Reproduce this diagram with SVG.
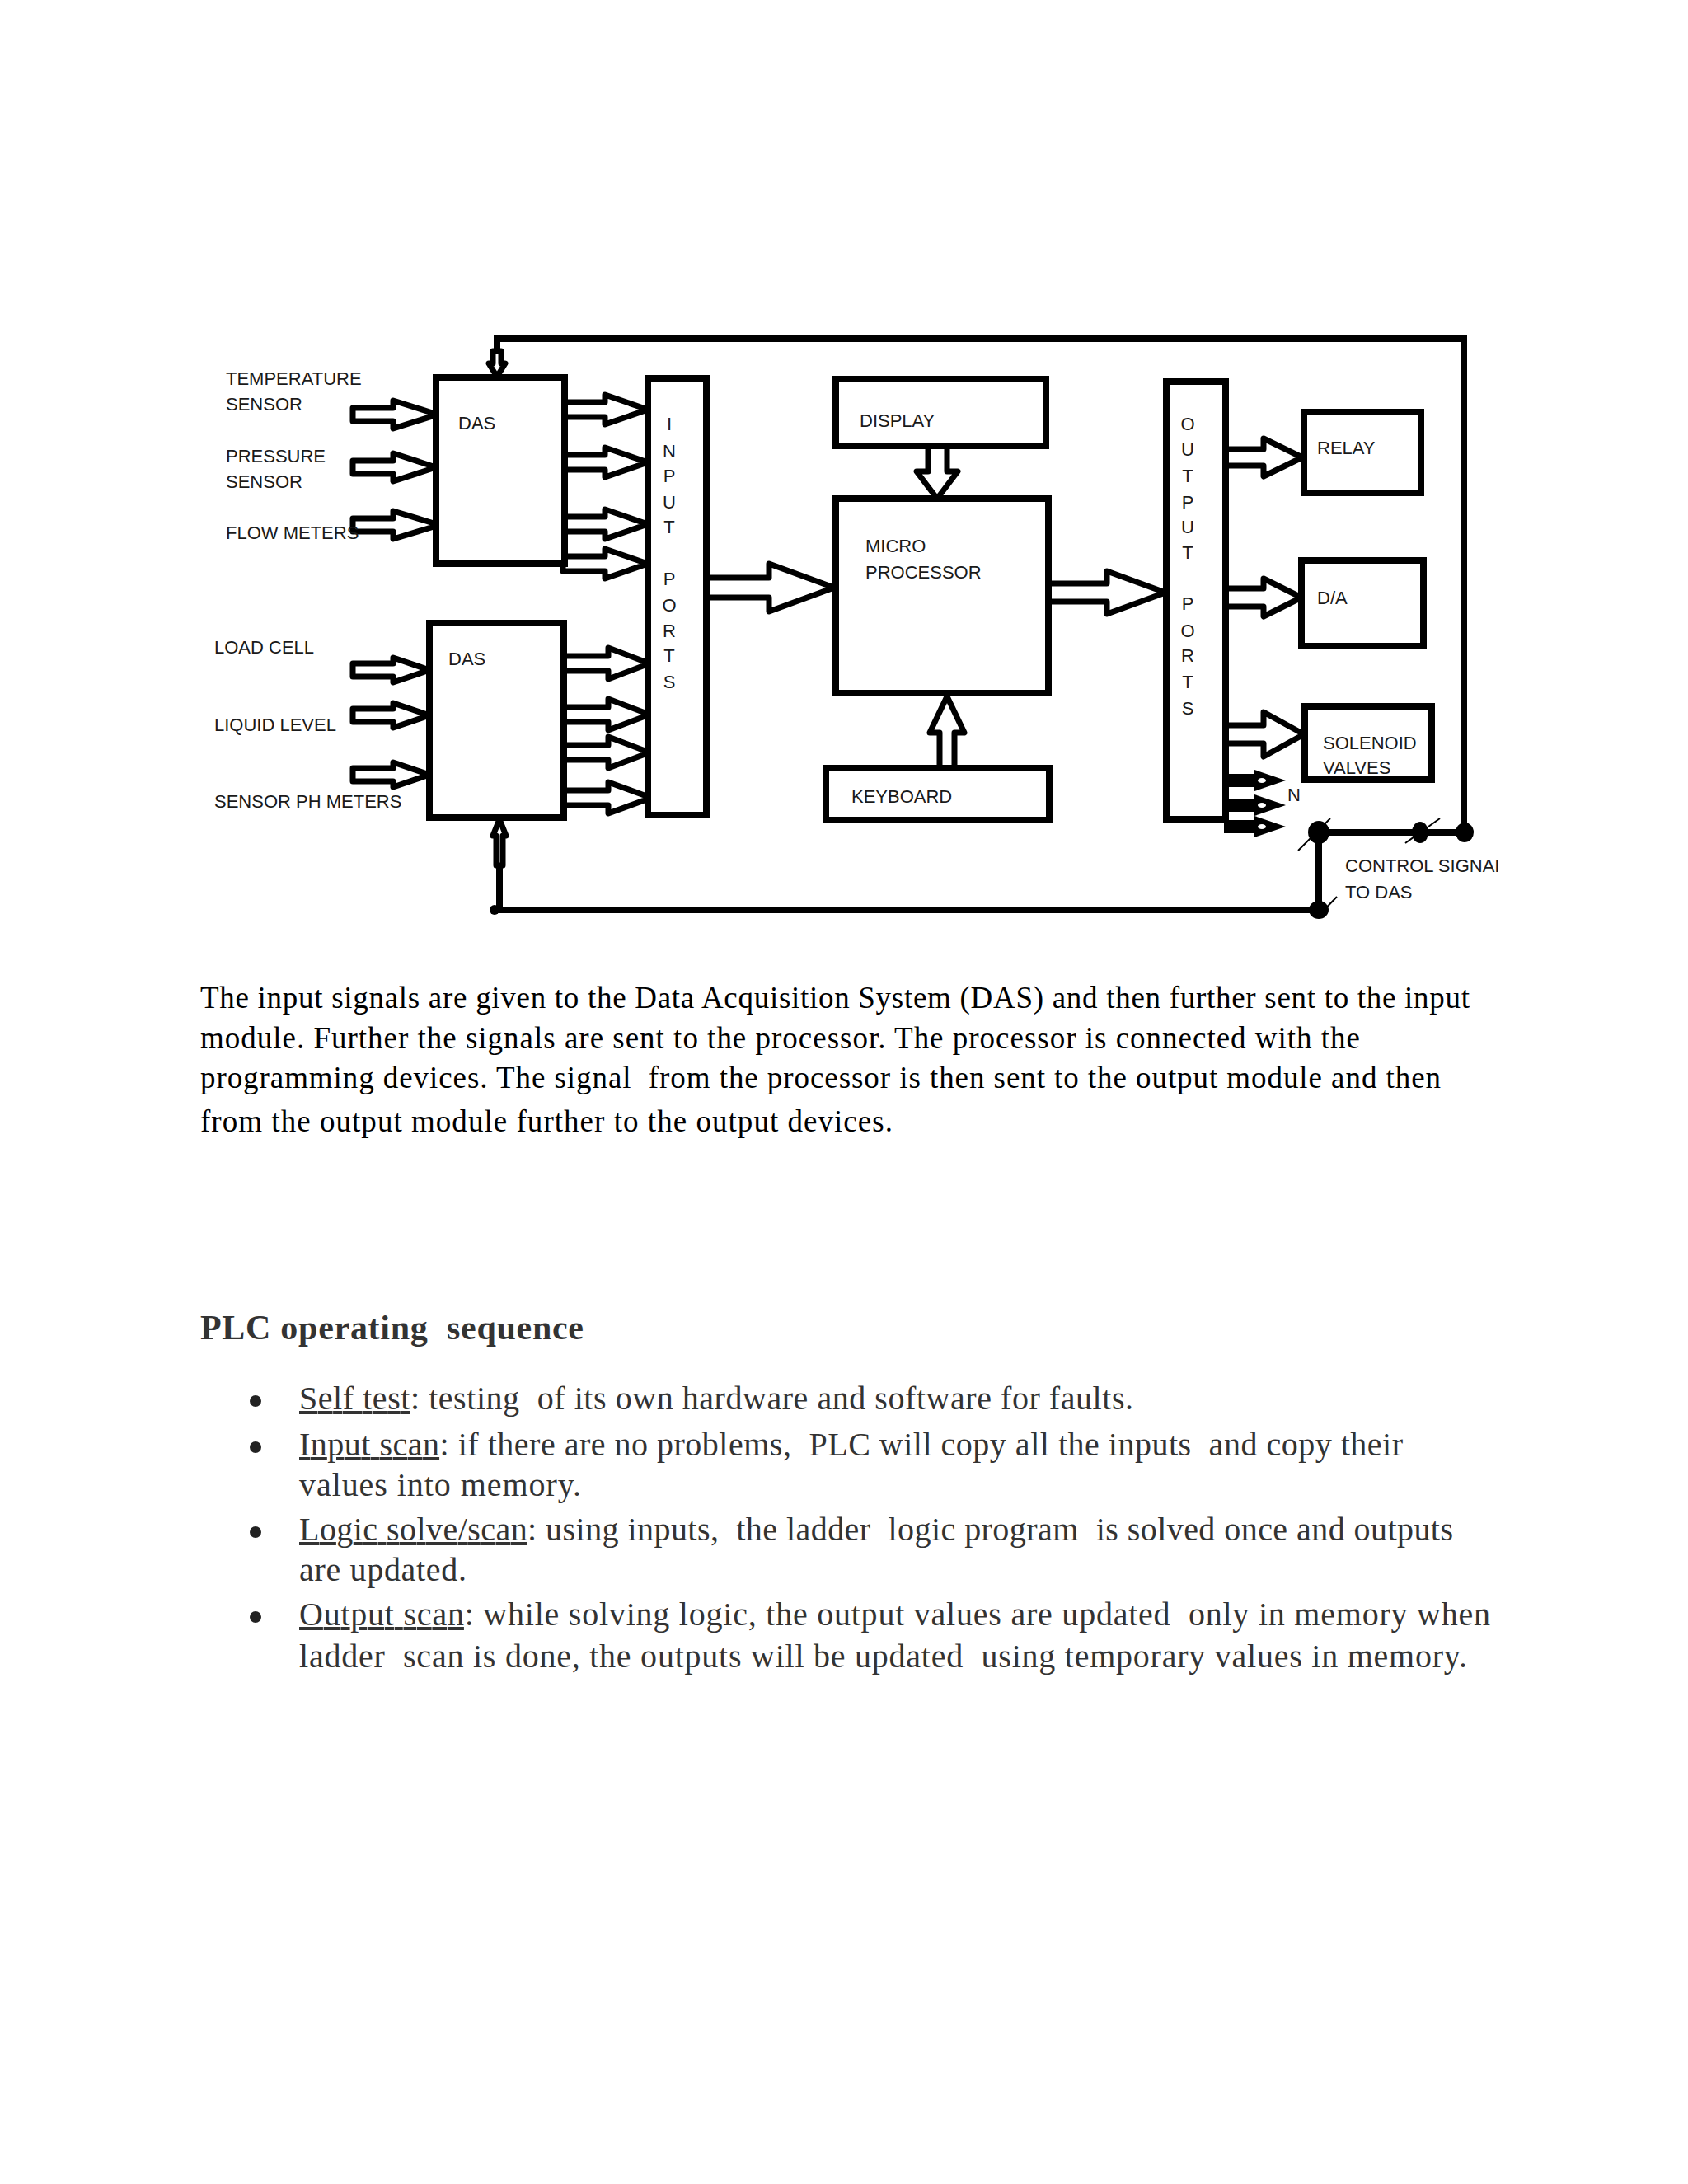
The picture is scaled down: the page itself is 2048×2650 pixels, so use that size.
<svg xmlns="http://www.w3.org/2000/svg" width="2048" height="2650" viewBox="0 0 2048 2650">
<style>
.box{fill:#fff;stroke:#000;stroke-width:8}
.arr{fill:#fff;stroke:#000;stroke-width:7;stroke-linejoin:round}
.wire{fill:none;stroke:#000;stroke-width:8;stroke-linecap:round;stroke-linejoin:miter}
.tick{stroke:#000;stroke-width:2}
.lbl{font-family:"Liberation Sans",Arial,sans-serif;font-size:22px;fill:#1a1a1a}
.vl{font-family:"Liberation Sans",Arial,sans-serif;font-size:22px;fill:#1a1a1a;text-anchor:middle}
.para{font-family:"Liberation Serif","Times New Roman",serif;font-size:37px;fill:#000;white-space:pre}
.bul{font-family:"Liberation Serif","Times New Roman",serif;font-size:40px;fill:#333;white-space:pre}
.head{font-family:"Liberation Serif","Times New Roman",serif;font-size:42px;font-weight:bold;fill:#333;white-space:pre}
.u{text-decoration:underline}
</style>
<rect width="2048" height="2650" fill="#fff"/>

<g id="connectors">
  <!-- feedback loop -->
  <path class="wire" d="M603,432 V411 H1776 V1010 H1600 V1104 H600"/>
  <path class="wire" d="M606,1104 V1048"/>
  <polygon class="arr" stroke-width="5" points="598,426 598,441 593,441 603,457 613,441 608,441 608,426"/>
  <polygon class="arr" stroke-width="5" points="606,994 614,1014 610,1014 610,1050 602,1050 602,1014 598,1014"/>
  <ellipse cx="1600" cy="1010" rx="13" ry="14"/>
  <ellipse cx="1723" cy="1010" rx="10" ry="13"/>
  <ellipse cx="1777" cy="1010" rx="11" ry="12"/>
  <ellipse cx="1600" cy="1104" rx="12" ry="11"/>
  <circle cx="600" cy="1104" r="6"/>
  <line class="tick" x1="1575" y1="1032" x2="1614" y2="993"/>
  <line class="tick" x1="1705" y1="1023" x2="1747" y2="993"/>
  <line class="tick" x1="1598" y1="1113" x2="1622" y2="1088"/>

  <!-- sensors to DAS1 -->
  <polygon class="arr" points="428,495 477,495 477,486 531,503 477,520 477,511 428,511"/>
  <polygon class="arr" points="428,559 477,559 477,550 529,567 477,584 477,575 428,575"/>
  <polygon class="arr" points="428,629 477,629 477,620 533,637 477,654 477,645 428,645"/>
  <!-- sensors to DAS2 -->
  <polygon class="arr" points="428,805 477,805 477,798 521,813 477,828 477,821 428,821"/>
  <polygon class="arr" points="428,860 477,860 477,853 521,868 477,883 477,876 428,876"/>
  <polygon class="arr" points="428,932 477,932 477,925 521,940 477,955 477,948 428,948"/>
  <!-- DAS1 to input ports -->
  <polygon class="arr" points="685,488 734,488 734,479 786,497 734,515 734,506 685,506"/>
  <polygon class="arr" points="685,552 734,552 734,543 786,561 734,579 734,570 685,570"/>
  <polygon class="arr" points="685,627 734,627 734,618 786,636 734,654 734,645 685,645"/>
  <polygon class="arr" points="683,675 734,675 734,666 786,684 734,702 734,693 683,693"/>
  <!-- DAS2 to input ports -->
  <polygon class="arr" points="684,796 738,796 738,786 788,805 738,824 738,814 684,814"/>
  <polygon class="arr" points="684,858 738,858 738,848 788,867 738,886 738,876 684,876"/>
  <polygon class="arr" points="684,904 738,904 738,894 788,913 738,932 738,922 684,922"/>
  <polygon class="arr" points="684,959 738,959 738,949 790,968 738,987 738,977 684,977"/>
  <!-- input ports to microprocessor -->
  <polygon class="arr" points="857,701 933,701 933,684 1012,713 933,742 933,725 857,725"/>
  <!-- display to microprocessor -->
  <polygon class="arr" points="1126,541 1126,572 1112,572 1137,605 1162,572 1149,572 1149,541"/>
  <!-- keyboard to microprocessor -->
  <polygon class="arr" points="1140,932 1140,889 1128,889 1149,845 1170,889 1158,889 1158,932"/>
  <!-- microprocessor to output ports -->
  <polygon class="arr" points="1272,708 1343,708 1343,693 1414,719 1343,745 1343,730 1272,730"/>
  <!-- output ports to devices -->
  <polygon class="arr" points="1487,545 1533,545 1533,532 1580,555 1533,578 1533,565 1487,565"/>
  <polygon class="arr" points="1487,714 1533,714 1533,702 1579,725 1533,748 1533,736 1487,736"/>
  <polygon class="arr" points="1487,880 1533,880 1533,864 1582,891 1533,918 1533,902 1487,902"/>
  <!-- N outputs -->
  <polygon points="1485,939 1522,939 1522,934 1560,947 1522,960 1522,955 1485,955"/>
  <ellipse cx="1531" cy="947" rx="5" ry="3" fill="#fff"/>
  <polygon points="1485,969 1522,969 1522,964 1560,977 1522,990 1522,985 1485,985"/>
  <ellipse cx="1531" cy="977" rx="5" ry="3" fill="#fff"/>
  <polygon points="1485,995 1522,995 1522,990 1560,1003 1522,1016 1522,1011 1485,1011"/>
  <ellipse cx="1531" cy="1003" rx="5" ry="3" fill="#fff"/>
</g>

<g id="sensor-labels">
  <text class="lbl" x="274" y="467">TEMPERATURE</text>
  <text class="lbl" x="274" y="498">SENSOR</text>
  <text class="lbl" x="274" y="561">PRESSURE</text>
  <text class="lbl" x="274" y="592">SENSOR</text>
  <text class="lbl" x="274" y="654">FLOW METERS</text>
  <text class="lbl" x="260" y="793">LOAD CELL</text>
  <text class="lbl" x="260" y="887">LIQUID LEVEL</text>
  <text class="lbl" x="260" y="980">SENSOR PH METERS</text>
</g>

<g id="das1">
  <rect class="box" x="529" y="458" width="156" height="226"/>
  <text class="lbl" x="556" y="521">DAS</text>
</g>
<g id="das2">
  <rect class="box" x="521" y="756" width="163" height="236"/>
  <text class="lbl" x="544" y="807">DAS</text>
</g>

<g id="input-ports">
  <rect class="box" x="786" y="459" width="71" height="530"/>
  <text class="vl" x="812" y="522">I</text>
  <text class="vl" x="812" y="555">N</text>
  <text class="vl" x="812" y="585">P</text>
  <text class="vl" x="812" y="617">U</text>
  <text class="vl" x="812" y="647">T</text>
  <text class="vl" x="812" y="710">P</text>
  <text class="vl" x="812" y="742">O</text>
  <text class="vl" x="812" y="773">R</text>
  <text class="vl" x="812" y="803">T</text>
  <text class="vl" x="812" y="835">S</text>
</g>

<g id="display">
  <rect class="box" x="1014" y="460" width="255" height="81"/>
  <text class="lbl" x="1043" y="518">DISPLAY</text>
</g>
<g id="microprocessor">
  <rect class="box" x="1014" y="605" width="258" height="236"/>
  <text class="lbl" x="1050" y="670">MICRO</text>
  <text class="lbl" x="1050" y="702">PROCESSOR</text>
</g>
<g id="keyboard">
  <rect class="box" x="1002" y="932" width="271" height="63"/>
  <text class="lbl" x="1033" y="974">KEYBOARD</text>
</g>

<g id="output-ports">
  <rect class="box" x="1415" y="463" width="72" height="531"/>
  <text class="vl" x="1441" y="522">O</text>
  <text class="vl" x="1441" y="553">U</text>
  <text class="vl" x="1441" y="585">T</text>
  <text class="vl" x="1441" y="617">P</text>
  <text class="vl" x="1441" y="647">U</text>
  <text class="vl" x="1441" y="678">T</text>
  <text class="vl" x="1441" y="740">P</text>
  <text class="vl" x="1441" y="773">O</text>
  <text class="vl" x="1441" y="803">R</text>
  <text class="vl" x="1441" y="835">T</text>
  <text class="vl" x="1441" y="867">S</text>
</g>

<g id="relay">
  <rect class="box" x="1582" y="500" width="142" height="98"/>
  <text class="lbl" x="1598" y="551">RELAY</text>
</g>
<g id="da">
  <rect class="box" x="1579" y="680" width="148" height="104"/>
  <text class="lbl" x="1598" y="733">D/A</text>
</g>
<g id="solenoid">
  <rect class="box" x="1583" y="857" width="154" height="89"/>
  <text class="lbl" x="1605" y="909">SOLENOID</text>
  <text class="lbl" x="1605" y="939">VALVES</text>
</g>
<g id="n-label">
  <text class="lbl" x="1562" y="972">N</text>
</g>
<g id="control-label">
  <text class="lbl" x="1632" y="1058">CONTROL SIGNAI</text>
  <text class="lbl" x="1632" y="1090">TO DAS</text>
</g>

<g id="paragraph">
  <text class="para" x="243" y="1223" textLength="1540" lengthAdjust="spacing">The input signals are given to the Data Acquisition System (DAS) and then further sent to the input</text>
  <text class="para" x="243" y="1272" textLength="1407" lengthAdjust="spacing">module. Further the signals are sent to the processor. The processor is connected with the</text>
  <text class="para" x="243" y="1320" textLength="1505" lengthAdjust="spacing">programming devices. The signal  from the processor is then sent to the output module and then</text>
  <text class="para" x="243" y="1373" textLength="840" lengthAdjust="spacing">from the output module further to the output devices.</text>
</g>

<g id="sequence">
  <text class="head" x="243" y="1625" textLength="465" lengthAdjust="spacing">PLC operating  sequence</text>
  <circle cx="310" cy="1700" r="7" fill="#222"/>
  <circle cx="310" cy="1756" r="7" fill="#222"/>
  <circle cx="310" cy="1859" r="7" fill="#222"/>
  <circle cx="310" cy="1962" r="7" fill="#222"/>
  <text class="bul" x="363" y="1710" textLength="1012" lengthAdjust="spacing"><tspan class="u">Self test</tspan>: testing  of its own hardware and software for faults.</text>
  <text class="bul" x="363" y="1766" textLength="1339" lengthAdjust="spacing"><tspan class="u">Input scan</tspan>: if there are no problems,  PLC will copy all the inputs  and copy their</text>
  <text class="bul" x="363" y="1815" textLength="342" lengthAdjust="spacing">values into memory.</text>
  <text class="bul" x="363" y="1869" textLength="1400" lengthAdjust="spacing"><tspan class="u">Logic solve/scan</tspan>: using inputs,  the ladder  logic program  is solved once and outputs</text>
  <text class="bul" x="363" y="1918" textLength="203" lengthAdjust="spacing">are updated.</text>
  <text class="bul" x="363" y="1972" textLength="1445" lengthAdjust="spacing"><tspan class="u">Output scan</tspan>: while solving logic, the output values are updated  only in memory when</text>
  <text class="bul" x="363" y="2023" textLength="1417" lengthAdjust="spacing">ladder  scan is done, the outputs will be updated  using temporary values in memory.</text>
</g>
</svg>
